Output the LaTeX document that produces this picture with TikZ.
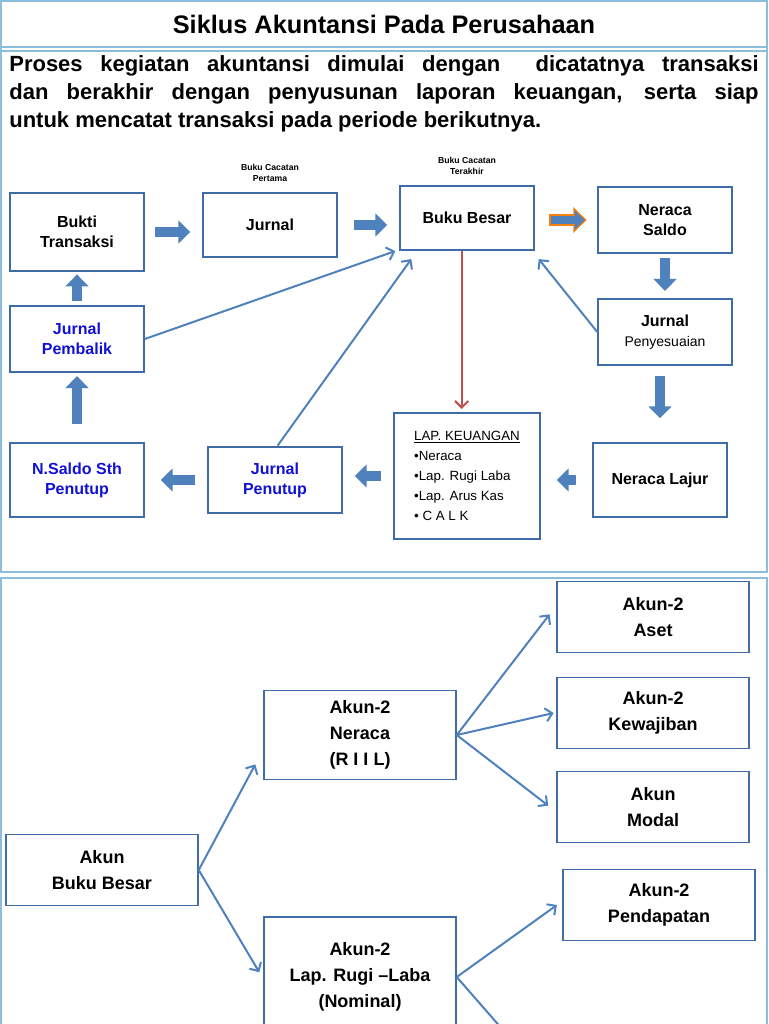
\documentclass[tikz,border=0pt]{standalone}
\usepackage{fontspec}
\setmainfont{Liberation Sans}
\usetikzlibrary{positioning,arrows.meta}
\definecolor{boxblue}{HTML}{3F6CA8}
\definecolor{lineblue}{HTML}{4F81BD}
\definecolor{panelblue}{HTML}{8CBDDB}
\definecolor{redline}{HTML}{C0504D}
\definecolor{txtblue}{HTML}{1010D8}
\begin{document}
\begin{tikzpicture}[
		x=0.75pt,y=-0.75pt,
		box/.style={
			draw=boxblue,
			line width=1.6pt,
			fill=white,
			align=center,
			font=\fontsize{12}{15}\selectfont\bfseries,
			minimum width=100pt,
			minimum height=50pt,
			inner sep=2pt,
		},
		bigbox/.style={
			box,
			line width=1.1pt,
			minimum width=144pt,
			minimum height=53pt,
			font=\fontsize{13.5}{19.5}\selectfont\bfseries,
		},
		fat/.style={
			draw=lineblue,
			line width=8pt,
			-{Triangle[width=17pt,length=9pt]},
		},
		link/.style={
			draw=lineblue,
			line width=1.5pt,
			-{Straight Barb[length=5pt,width=10pt]},
		},
		note/.style={font=\fontsize{6.5}{8.5}\selectfont\bfseries,align=center},
		]
		\useasboundingbox (0,0) rectangle (768,1024);
		% Panels
		\draw[panelblue,line width=1pt] (1,1) rectangle (767,572);
		\draw[panelblue,line width=1pt] (1,47) -- (767,47);
		\draw[panelblue,line width=1pt] (1,51) -- (767,51);
		\draw[panelblue,line width=1pt] (1,1040) -- (1,578) -- (767,578) -- (767,1040);
		% Title and text
		\node[font=\fontsize{19}{24}\selectfont\bfseries] (title) at (384,24) {Siklus Akuntansi Pada Perusahaan};
		\node[text width=562pt,align=justify,font=\fontsize{16.5}{21}\selectfont\bfseries,inner sep=0pt] (intro) at (384,94)
			{Proses kegiatan akuntansi dimulai dengan \ dicatatnya transaksi\linebreak dan berakhir dengan penyusunan laporan keuangan, serta siap\linebreak untuk mencatat transaksi pada periode berikutnya.};
		% Cycle boxes
		\node[box,minimum height=58pt] (bukti) at (77,232) {Bukti\\Transaksi};
		\node[box,minimum height=48pt] (jurnal) at (270,225) {Jurnal};
		\node[box,minimum height=48pt] (besar) at (467,218) {Buku Besar};
		\node[box] (saldo) at (665,220) {Neraca\\Saldo};
		\node[box] (penyesuaian) at (665,332) {Jurnal\\{\fontsize{10.5}{14}\selectfont\mdseries Penyesuaian}};
		\node[box,minimum height=55pt] (lajur) at (660,480) {Neraca Lajur};
		\node[box,minimum width=109pt,minimum height=95pt,align=left,font=\fontsize{10}{15}\selectfont] (lap) at (467,476)
			{\underline{LAP. KEUANGAN}\\\textbullet Neraca\\\textbullet Lap. Rugi Laba\\\textbullet Lap. Arus Kas\\\textbullet\ C A L K};
		\node[box,text=txtblue] (penutup) at (275,480) {Jurnal\\Penutup};
		\node[box,text=txtblue,minimum height=55pt] (nsaldo) at (77,480) {N.Saldo Sth\\Penutup};
		\node[box,text=txtblue] (pembalik) at (77,339) {Jurnal\\Pembalik};
		\node[note,above=4pt of jurnal] (pertama) {Buku Cacatan\\Pertama};
		\node[note,above=4pt of besar] (terakhir) {Buku Cacatan\\Terakhir};
		% Block arrows
		\draw[fat,shorten <=8pt,shorten >=9pt] (bukti.east) -- (bukti.east -| jurnal.west);
		\draw[fat,shorten <=12pt,shorten >=9pt] (jurnal.east) -- (jurnal.east -| besar.west);
		\draw[fat,draw=orange!85!brown,line width=9.5pt,shorten <=11pt,shorten >=8pt,-{Triangle[width=19pt,length=10pt]}] (besar.east |- saldo) -- (saldo.west);
		\draw[fat,line width=6.5pt,shorten <=12pt,shorten >=9.5pt,-{Triangle[width=14pt,length=7.5pt]}] (besar.east |- saldo) -- (saldo.west);
		\draw[fat,shorten <=3pt,shorten >=5pt] (saldo) -- (penyesuaian);
		\draw[fat,shorten <=7pt,shorten >=18pt] (penyesuaian.south -| lajur) -- (lajur.north);
		\draw[fat,shorten <=12pt,shorten >=12pt] (lajur.west) -- (lajur.west -| lap.east);
		\draw[fat,shorten <=9pt,shorten >=9pt] (lap.west) -- (lap.west -| penutup.east);
		\draw[fat,shorten <=9pt,shorten >=12pt] (penutup.west |- nsaldo) -- (nsaldo.east);
		\draw[fat,shorten <=14pt,shorten >=2pt] (nsaldo) -- (pembalik);
		\draw[fat,shorten <=3pt,shorten >=2pt] (pembalik) -- (bukti);
		% Thin connectors
		\draw[link] (pembalik.east) -- ([xshift=-3pt]besar.south west);
		\draw[link] ([xshift=2pt]penutup.north) -- ([xshift=9pt,yshift=-6pt]besar.south west);
		\draw[link] (penyesuaian.west) -- ([xshift=3pt,yshift=-6pt]besar.south east);
		\draw[link,draw=redline] ([xshift=-4pt]besar.south) -- ([xshift=-4pt,yshift=2pt]lap.north);
		% Account tree
		\node[bigbox] (akun) at (102,870) {Akun\\Buku Besar};
		\node[bigbox,minimum height=67pt] (neraca) at (360,735) {Akun-2\\Neraca\\(R I I L)};
		\node[bigbox,minimum height=90pt] (rugi) at (360,977) {Akun-2\\Lap. Rugi --Laba\\(Nominal)};
		\node[bigbox] (aset) at (653,617) {Akun-2\\Aset};
		\node[bigbox] (wajib) at (653,713) {Akun-2\\Kewajiban};
		\node[bigbox] (modal) at (653,807) {Akun\\Modal};
		\node[bigbox] (dapat) at (659,905) {Akun-2\\Pendapatan};
		\coordinate (offpage) at (503,1030);
		\draw[link] (akun.east) -- ([xshift=-6pt,yshift=12pt]neraca.south west);
		\draw[link] (akun.east) -- ([xshift=-3pt,yshift=-42pt]rugi.north west);
		\draw[link] (neraca.east) -- ([xshift=-5pt,yshift=2pt]aset.west);
		\draw[link] (neraca.east) -- ([xshift=-2pt]wajib.west);
		\draw[link] (neraca.east) -- ([xshift=-6pt,yshift=1pt]modal.west);
		\draw[link] (rugi.east) -- ([xshift=-4pt]dapat.west);
		\draw[draw=lineblue,line width=1.5pt] (rugi.east) -- (offpage);
	\end{tikzpicture}
\end{document}
